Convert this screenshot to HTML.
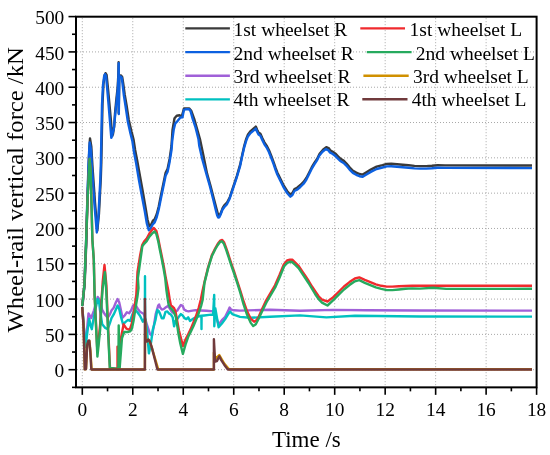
<!DOCTYPE html>
<html><head><meta charset="utf-8"><style>
html,body{margin:0;padding:0;background:#fff;width:550px;height:455px;overflow:hidden}
svg{display:block}
</style></head><body>
<svg width="550" height="455" viewBox="0 0 550 455">
<rect width="550" height="455" fill="#fff"/>
<g stroke="#a8a8a8" stroke-width="1" stroke-dasharray="1 2"><line x1="82.30" y1="18.20" x2="82.30" y2="386.36"/><line x1="132.78" y1="18.20" x2="132.78" y2="386.36"/><line x1="183.26" y1="18.20" x2="183.26" y2="386.36"/><line x1="233.73" y1="18.20" x2="233.73" y2="386.36"/><line x1="284.21" y1="18.20" x2="284.21" y2="386.36"/><line x1="334.69" y1="18.20" x2="334.69" y2="386.36"/><line x1="385.17" y1="18.20" x2="385.17" y2="386.36"/><line x1="435.64" y1="18.20" x2="435.64" y2="386.36"/><line x1="486.12" y1="18.20" x2="486.12" y2="386.36"/><line x1="77.00" y1="369.70" x2="535.60" y2="369.70"/><line x1="77.00" y1="334.39" x2="535.60" y2="334.39"/><line x1="77.00" y1="299.08" x2="535.60" y2="299.08"/><line x1="77.00" y1="263.77" x2="535.60" y2="263.77"/><line x1="77.00" y1="228.46" x2="535.60" y2="228.46"/><line x1="77.00" y1="193.15" x2="535.60" y2="193.15"/><line x1="77.00" y1="157.84" x2="535.60" y2="157.84"/><line x1="77.00" y1="122.53" x2="535.60" y2="122.53"/><line x1="77.00" y1="87.22" x2="535.60" y2="87.22"/><line x1="77.00" y1="51.91" x2="535.60" y2="51.91"/></g>
<polyline fill="none" stroke="#3a3a3a" stroke-width="2.4" stroke-linejoin="round" stroke-linecap="butt" points="82.6,304.9 84.7,283.1 86.3,242.4 87.6,196.9 88.8,161.5 89.5,146.2 90.0,138.5 91.3,146.4 92.5,166.8 95.0,202.5 97.3,230.6 99.0,213.3 100.8,178.5 101.3,163.5 101.8,138.6 102.5,103.7 103.5,83.8 104.7,74.9 105.5,73.2 106.6,74.9 108.0,88.7 109.4,103.5 110.9,120.3 112.2,136.0 113.0,134.0 113.8,128.9 114.2,126.5 115.0,113.6 116.1,101.9 117.7,87.0 118.3,75.0 118.6,62.2 118.7,113.0 119.3,76.0 121.0,75.4 122.2,77.0 123.1,82.6 124.7,94.5 126.6,105.4 128.8,120.0 131.5,131.5 133.5,139.2 135.1,149.8 137.0,159.4 140.1,176.8 142.9,192.3 145.6,207.9 147.5,219.5 149.3,226.2 151.2,224.4 153.0,220.6 154.9,218.8 156.8,214.0 158.8,206.3 160.7,196.5 163.6,182.6 165.6,172.7 167.6,168.8 169.6,158.9 171.5,146.0 172.5,130.0 174.5,118.2 176.7,115.7 179.6,115.3 181.8,116.3 183.0,112.0 184.0,108.4 189.1,108.4 191.3,110.9 194.2,118.9 197.1,129.1 200.0,139.3 203.3,155.0 207.0,173.4 210.5,185.8 214.0,199.3 216.7,209.6 217.7,213.4 218.7,215.3 219.8,215.1 220.9,212.8 222.8,207.6 224.6,205.0 227.2,202.3 229.8,197.2 233.3,186.6 236.8,176.1 240.2,164.4 242.2,154.9 244.2,146.1 246.0,139.5 248.0,134.4 250.6,131.1 253.2,128.8 255.2,127.1 255.8,126.5 257.1,129.8 258.5,132.4 260.4,133.7 262.4,138.3 264.4,142.3 267.0,146.2 269.0,150.2 271.6,156.8 273.6,162.1 275.6,168.0 277.3,172.5 280.5,179.1 283.8,185.7 287.1,191.0 290.4,194.7 292.4,193.0 294.5,189.0 297.1,187.7 300.4,185.0 303.8,181.7 306.5,177.8 309.2,172.5 311.8,167.2 314.5,162.6 317.2,158.7 319.6,153.7 323.0,149.8 326.3,147.1 329.0,148.4 330.2,150.4 332.8,151.7 335.5,153.7 338.0,156.3 340.6,158.9 343.9,160.9 346.5,163.5 349.8,167.5 353.0,170.8 356.3,172.6 359.5,174.0 362.7,174.6 366.0,172.6 370.8,169.6 376.6,166.6 382.5,165.1 386.8,163.9 391.2,163.7 397.0,164.3 402.8,164.8 408.6,165.3 414.5,165.9 420.3,166.1 426.1,166.1 431.9,165.8 437.7,165.3 445.0,165.4 532.0,165.5"/>
<polyline fill="none" stroke="#0c60e0" stroke-width="2.4" stroke-linejoin="round" stroke-linecap="butt" points="82.3,306.0 84.4,285.0 86.0,245.0 87.3,200.0 88.5,165.0 89.2,150.0 89.7,142.5 91.0,150.0 92.1,170.0 94.5,205.0 96.8,232.5 98.5,215.0 100.3,180.0 100.8,165.0 101.3,140.0 102.0,105.0 103.0,85.0 104.2,76.0 105.0,74.2 106.0,76.0 107.3,90.0 108.6,105.0 110.0,122.0 111.3,137.9 112.0,136.0 113.3,130.6 113.9,128.0 115.2,114.8 116.5,102.9 117.9,88.0 118.4,76.0 118.7,63.2 118.8,114.0 119.3,77.0 120.7,76.4 121.8,78.0 122.5,83.6 123.9,95.5 125.6,106.5 127.8,121.4 130.4,133.2 132.4,141.2 134.0,152.0 135.9,161.9 138.9,179.7 141.8,195.5 144.8,211.4 146.8,223.3 148.8,230.2 150.8,228.2 152.7,224.3 154.7,222.3 156.7,217.3 158.7,209.4 160.7,199.5 163.6,185.6 165.6,175.7 167.6,171.8 169.6,161.9 171.5,150.0 172.2,140.8 173.8,129.1 175.3,123.3 177.5,121.1 180.4,117.5 182.5,117.2 183.3,113.0 184.0,109.8 186.2,109.2 189.1,109.2 190.5,111.0 192.7,118.9 195.6,127.6 198.5,139.3 199.3,146.0 202.5,160.0 206.6,174.6 210.1,187.0 213.6,201.0 216.2,211.6 217.2,215.5 218.2,217.5 219.3,217.3 220.4,215.0 222.4,209.8 224.2,207.2 226.8,204.5 229.4,199.3 233.0,188.7 236.5,178.2 240.0,166.5 242.0,157.0 244.0,148.2 245.9,141.6 247.9,136.4 250.5,133.1 253.2,130.8 255.2,129.1 255.8,128.5 257.1,131.8 258.5,134.4 260.4,135.7 262.4,140.3 264.4,144.3 267.0,148.2 269.0,152.2 271.6,158.8 273.6,164.1 275.6,170.0 277.3,174.5 280.5,181.1 283.8,187.7 287.1,193.0 290.4,196.7 292.4,195.0 294.4,191.0 297.0,189.7 300.3,187.0 303.6,183.7 306.3,179.8 308.9,174.5 311.5,169.2 314.2,164.6 316.8,160.7 319.2,155.7 322.5,151.8 325.8,149.1 328.5,150.4 329.8,152.4 332.4,153.7 335.1,155.7 337.7,158.4 340.3,161.0 343.6,163.0 346.3,165.6 349.6,169.6 352.9,172.9 356.2,174.8 359.5,176.2 362.7,176.8 366.0,174.8 370.8,171.9 376.6,169.0 382.5,167.5 386.8,166.4 391.2,166.2 397.0,166.8 402.8,167.3 408.6,167.8 414.5,168.4 420.3,168.6 426.1,168.6 431.9,168.3 437.7,167.8 445.0,167.9 532.0,168.1"/>
<polyline fill="none" stroke="#a060d8" stroke-width="2.4" stroke-linejoin="round" stroke-linecap="butt" points="82.3,307.0 85.3,347.0 86.5,335.0 88.5,313.4 91.2,318.0 93.8,310.8 97.7,297.0 100.0,300.1 102.2,310.0 104.9,314.4 107.7,317.7 109.9,314.4 111.5,310.5 113.7,307.8 115.9,302.3 117.6,299.0 119.2,302.3 120.9,310.0 122.5,317.7 124.7,315.5 126.9,312.2 129.1,313.3 131.3,310.0 133.0,305.6 135.2,304.5 137.9,308.9 140.0,311.8 143.9,314.0 147.0,325.0 150.0,334.0 152.0,335.6 154.0,325.0 155.7,314.2 158.2,305.5 159.1,304.5 160.0,307.3 161.8,309.5 163.6,309.1 165.9,307.3 168.2,305.9 169.5,308.2 171.8,311.8 173.5,313.0 175.5,311.8 177.3,310.5 179.1,307.7 180.9,305.0 182.7,305.9 184.1,309.5 186.4,310.9 188.6,311.4 190.9,310.9 195.5,310.1 201.0,310.5 206.5,310.8 213.6,311.4 215.3,314.7 218.6,324.6 221.9,320.2 225.2,316.9 227.9,311.4 229.6,307.5 231.2,309.7 234.0,310.3 240.0,310.6 270.0,309.8 300.0,310.8 333.0,309.9 366.0,310.3 420.0,310.5 532.0,310.6"/>
<polyline fill="none" stroke="#00c0c0" stroke-width="2.4" stroke-linejoin="round" stroke-linecap="butt" points="82.3,307.0 85.5,347.0 87.9,327.9 89.2,318.7 90.5,325.3 91.8,329.2 93.1,321.3 95.1,310.8 97.7,299.0 99.1,301.6 100.0,310.0 102.2,324.3 104.9,327.6 107.7,329.2 109.9,323.2 111.5,318.2 113.7,314.4 115.9,309.4 117.6,305.6 119.2,308.9 120.9,316.6 123.1,324.3 125.3,322.1 128.0,319.9 130.2,321.0 132.4,314.4 134.6,309.4 137.4,312.2 140.0,315.7 142.9,321.7 144.9,318.0 145.0,276.3 145.1,318.0 146.9,329.6 148.9,353.4 150.9,343.5 152.8,329.6 155.5,320.0 157.3,310.0 158.6,310.9 160.0,313.6 161.8,318.2 163.6,318.2 165.5,311.8 167.3,311.4 169.1,313.6 170.9,314.5 172.7,317.3 174.1,326.4 175.5,320.9 177.3,319.1 179.1,316.4 180.9,314.1 182.7,315.5 184.5,318.2 186.4,319.1 188.2,317.3 190.0,320.9 192.7,319.1 194.4,318.0 198.8,316.3 201.4,315.8 201.5,329.0 201.6,315.8 204.3,315.5 209.2,314.9 213.1,314.5 214.2,294.9 214.3,326.2 215.3,308.1 218.6,327.3 221.9,323.5 225.2,319.1 227.9,314.7 230.1,311.4 232.3,314.1 235.1,315.2 240.0,316.9 250.0,317.8 270.0,316.8 300.0,315.4 326.4,317.4 355.0,315.8 420.0,316.5 532.0,316.6"/>
<polyline fill="none" stroke="#f02a2e" stroke-width="2.4" stroke-linejoin="round" stroke-linecap="butt" points="82.2,306.1 84.4,285.0 86.0,245.0 87.5,200.0 89.6,159.0 90.6,170.0 92.4,240.0 93.8,260.0 94.6,295.0 97.4,352.0 100.1,325.0 101.5,300.0 102.7,282.0 104.5,265.0 106.4,285.0 108.2,330.0 110.0,368.0 117.5,369.0 117.5,346.6 118.5,369.0 121.0,338.0 123.6,324.3 126.4,328.7 129.7,329.8 131.9,323.2 134.1,310.0 136.3,294.6 137.5,272.0 140.2,255.0 142.2,245.0 144.1,241.5 146.7,238.5 149.4,233.5 152.0,230.0 153.8,227.9 156.4,231.0 158.2,238.5 160.3,249.0 162.3,258.7 164.0,267.5 165.8,278.1 168.2,290.0 169.5,298.2 170.9,305.5 172.7,306.8 174.1,308.2 175.5,311.8 177.0,319.7 178.9,330.3 181.6,340.8 182.9,346.0 185.5,339.5 188.2,334.2 190.8,328.9 193.4,322.4 196.1,315.8 198.7,307.9 200.7,300.0 202.5,291.0 204.5,282.0 208.1,267.4 211.8,255.3 215.4,248.0 217.8,243.8 220.2,240.6 222.2,240.0 224.2,242.6 226.6,249.2 229.0,256.5 231.4,263.8 233.9,271.0 237.5,282.0 240.6,291.5 243.8,302.0 247.2,311.6 250.6,318.6 254.1,321.7 256.5,320.3 258.8,316.5 262.0,309.2 266.2,300.3 270.6,292.8 275.0,285.3 279.4,275.3 283.8,264.5 287.1,260.5 290.0,259.6 292.5,259.8 295.5,262.8 298.8,266.1 302.1,271.1 305.4,276.0 308.7,281.0 312.0,286.5 315.3,291.5 318.6,296.3 322.0,299.6 327.5,301.5 333.0,297.4 338.5,292.0 344.0,286.5 349.5,282.1 354.9,278.5 359.3,277.4 364.8,279.9 370.3,282.1 375.8,284.3 381.3,285.8 386.8,286.6 392.3,286.6 398.9,286.3 405.5,286.0 412.1,285.7 420.0,285.7 532.0,285.7"/>
<polyline fill="none" stroke="#26aa5e" stroke-width="2.4" stroke-linejoin="round" stroke-linecap="butt" points="82.2,306.1 84.4,285.0 86.0,245.0 87.5,200.0 89.6,159.0 90.6,170.0 92.4,240.0 93.8,260.0 94.6,295.0 97.4,356.6 100.1,330.2 101.5,305.0 102.7,288.0 104.9,272.3 106.2,290.0 108.0,330.2 109.8,368.0 118.4,369.0 118.7,325.4 119.6,369.0 122.0,338.0 124.2,332.0 127.5,332.0 130.2,331.4 131.9,328.7 133.5,321.0 135.2,310.0 137.4,296.8 138.5,288.0 137.9,278.1 140.6,258.7 142.3,246.4 144.1,243.8 146.7,241.1 149.4,236.7 152.0,233.7 154.6,231.4 156.4,234.1 158.2,241.1 159.9,249.9 161.7,258.7 163.4,267.5 165.2,278.1 166.4,290.0 167.7,299.1 168.6,304.5 170.0,307.3 171.8,309.1 173.2,310.9 174.5,313.6 175.9,317.3 177.3,326.0 178.5,334.0 180.3,343.4 182.9,353.9 185.5,344.7 188.2,336.8 190.8,331.6 193.4,326.3 196.1,319.7 198.7,313.2 201.3,305.3 202.6,300.0 204.5,282.9 208.1,268.4 211.8,256.3 215.4,249.0 217.8,245.0 220.2,241.8 221.9,241.3 223.9,243.8 226.3,250.2 228.7,257.5 231.1,264.8 233.6,272.0 237.2,282.9 240.2,292.5 243.5,304.1 247.0,314.6 250.6,322.6 253.2,326.1 255.8,324.3 258.5,319.0 262.0,311.5 266.4,302.5 270.8,295.0 275.2,287.5 279.6,277.5 284.0,266.5 287.3,262.8 290.0,261.8 292.0,262.0 295.3,264.8 298.6,268.1 301.9,273.1 305.2,278.0 308.5,283.0 311.8,288.5 315.1,294.0 318.4,298.9 322.0,302.6 327.5,305.5 333.0,300.4 338.5,294.9 344.0,289.5 349.5,285.1 354.9,281.3 359.3,280.2 364.8,282.9 370.3,285.1 375.8,287.3 381.3,288.8 386.8,290.1 392.3,290.1 398.9,289.5 405.5,288.8 412.1,288.4 420.0,288.6 433.0,287.8 446.2,288.9 532.0,288.8"/>
<polyline fill="none" stroke="#d09000" stroke-width="2.4" stroke-linejoin="round" stroke-linecap="butt" points="82.2,307.0 83.5,325.0 84.8,369.3 86.0,369.0 87.2,345.0 88.5,342.0 89.5,341.0 90.5,352.0 91.6,369.5 144.9,369.5 145.2,320.0 146.0,339.0 147.5,341.0 149.0,340.0 151.0,345.0 152.5,350.0 155.5,360.0 158.3,369.5 213.9,369.5 213.9,352.6 215.7,358.7 219.3,355.0 224.2,363.5 229.0,369.3 532.0,369.3"/>
<polyline fill="none" stroke="#703a3c" stroke-width="2.4" stroke-linejoin="round" stroke-linecap="butt" points="82.2,307.0 83.5,325.0 84.8,369.3 86.0,369.0 87.2,345.0 88.2,341.0 89.2,340.4 90.2,350.0 91.3,369.5 144.9,369.5 144.9,298.9 145.5,339.5 146.9,341.5 148.3,339.5 149.9,341.5 151.8,347.4 154.8,359.3 157.4,369.5 213.9,369.5 213.9,339.3 215.1,361.7 216.9,361.1 219.3,356.3 221.1,359.9 224.2,364.7 227.8,369.5 532.0,369.5"/>
<rect x="76.00" y="16.70" width="460.60" height="370.66" fill="none" stroke="#000" stroke-width="2"/>
<g stroke="#000" stroke-width="1.6"><line x1="82.30" y1="387.36" x2="82.30" y2="394.86"/><line x1="107.54" y1="387.36" x2="107.54" y2="391.36"/><line x1="132.78" y1="387.36" x2="132.78" y2="394.86"/><line x1="158.02" y1="387.36" x2="158.02" y2="391.36"/><line x1="183.26" y1="387.36" x2="183.26" y2="394.86"/><line x1="208.49" y1="387.36" x2="208.49" y2="391.36"/><line x1="233.73" y1="387.36" x2="233.73" y2="394.86"/><line x1="258.97" y1="387.36" x2="258.97" y2="391.36"/><line x1="284.21" y1="387.36" x2="284.21" y2="394.86"/><line x1="309.45" y1="387.36" x2="309.45" y2="391.36"/><line x1="334.69" y1="387.36" x2="334.69" y2="394.86"/><line x1="359.93" y1="387.36" x2="359.93" y2="391.36"/><line x1="385.17" y1="387.36" x2="385.17" y2="394.86"/><line x1="410.41" y1="387.36" x2="410.41" y2="391.36"/><line x1="435.64" y1="387.36" x2="435.64" y2="394.86"/><line x1="460.88" y1="387.36" x2="460.88" y2="391.36"/><line x1="486.12" y1="387.36" x2="486.12" y2="394.86"/><line x1="511.36" y1="387.36" x2="511.36" y2="391.36"/><line x1="536.60" y1="387.36" x2="536.60" y2="394.86"/><line x1="76.00" y1="387.36" x2="72.00" y2="387.36"/><line x1="76.00" y1="369.70" x2="68.50" y2="369.70"/><line x1="76.00" y1="352.04" x2="72.00" y2="352.04"/><line x1="76.00" y1="334.39" x2="68.50" y2="334.39"/><line x1="76.00" y1="316.74" x2="72.00" y2="316.74"/><line x1="76.00" y1="299.08" x2="68.50" y2="299.08"/><line x1="76.00" y1="281.42" x2="72.00" y2="281.42"/><line x1="76.00" y1="263.77" x2="68.50" y2="263.77"/><line x1="76.00" y1="246.12" x2="72.00" y2="246.12"/><line x1="76.00" y1="228.46" x2="68.50" y2="228.46"/><line x1="76.00" y1="210.80" x2="72.00" y2="210.80"/><line x1="76.00" y1="193.15" x2="68.50" y2="193.15"/><line x1="76.00" y1="175.49" x2="72.00" y2="175.49"/><line x1="76.00" y1="157.84" x2="68.50" y2="157.84"/><line x1="76.00" y1="140.19" x2="72.00" y2="140.19"/><line x1="76.00" y1="122.53" x2="68.50" y2="122.53"/><line x1="76.00" y1="104.88" x2="72.00" y2="104.88"/><line x1="76.00" y1="87.22" x2="68.50" y2="87.22"/><line x1="76.00" y1="69.56" x2="72.00" y2="69.56"/><line x1="76.00" y1="51.91" x2="68.50" y2="51.91"/><line x1="76.00" y1="34.25" x2="72.00" y2="34.25"/><line x1="76.00" y1="16.60" x2="68.50" y2="16.60"/></g>
<g font-family='"Liberation Serif", "Times New Roman", serif' font-size="19.4" fill="#000"><text x="82.30" y="416.4" text-anchor="middle">0</text><text x="132.78" y="416.4" text-anchor="middle">2</text><text x="183.26" y="416.4" text-anchor="middle">4</text><text x="233.73" y="416.4" text-anchor="middle">6</text><text x="284.21" y="416.4" text-anchor="middle">8</text><text x="334.69" y="416.4" text-anchor="middle">10</text><text x="385.17" y="416.4" text-anchor="middle">12</text><text x="435.64" y="416.4" text-anchor="middle">14</text><text x="486.12" y="416.4" text-anchor="middle">16</text><text x="536.60" y="416.4" text-anchor="middle">18</text><text x="64.3" y="377.30" text-anchor="end">0</text><text x="64.3" y="341.99" text-anchor="end">50</text><text x="64.3" y="306.68" text-anchor="end">100</text><text x="64.3" y="271.37" text-anchor="end">150</text><text x="64.3" y="236.06" text-anchor="end">200</text><text x="64.3" y="200.75" text-anchor="end">250</text><text x="64.3" y="165.44" text-anchor="end">300</text><text x="64.3" y="130.13" text-anchor="end">350</text><text x="64.3" y="94.82" text-anchor="end">400</text><text x="64.3" y="59.51" text-anchor="end">450</text><text x="64.3" y="24.20" text-anchor="end">500</text></g>
<text x="306.4" y="446.7" text-anchor="middle" font-family='"Liberation Serif", "Times New Roman", serif' font-size="23">Time /s</text>
<text transform="translate(23,189.8) rotate(-90) scale(1,0.95)" text-anchor="middle" font-family='"Liberation Serif", "Times New Roman", serif' font-size="24.65">Wheel-rail vertical force /kN</text>
<line x1="185.3" y1="28.4" x2="229.9" y2="28.4" stroke="#3a3a3a" stroke-width="2.4"/><text x="233.5" y="35.5" font-family='"Liberation Serif", "Times New Roman", serif' font-size="19.5">1st wheelset R</text><line x1="185.3" y1="52.1" x2="229.9" y2="52.1" stroke="#0c60e0" stroke-width="2.4"/><text x="233.5" y="59.5" font-family='"Liberation Serif", "Times New Roman", serif' font-size="19.5">2nd wheelset R</text><line x1="185.3" y1="75.7" x2="229.9" y2="75.7" stroke="#a060d8" stroke-width="2.4"/><text x="233.5" y="82.8" font-family='"Liberation Serif", "Times New Roman", serif' font-size="19.5">3rd wheelset R</text><line x1="185.3" y1="99.4" x2="229.9" y2="99.4" stroke="#00c0c0" stroke-width="2.4"/><text x="233.5" y="106.1" font-family='"Liberation Serif", "Times New Roman", serif' font-size="19.5">4th wheelset R</text><line x1="360.3" y1="28.4" x2="405" y2="28.4" stroke="#f02a2e" stroke-width="2.4"/><text x="409.6" y="35.5" font-family='"Liberation Serif", "Times New Roman", serif' font-size="19.5">1st wheelset L</text><line x1="366.8" y1="52.1" x2="411.6" y2="52.1" stroke="#26aa5e" stroke-width="2.4"/><text x="415.8" y="59.5" font-family='"Liberation Serif", "Times New Roman", serif' font-size="19.5">2nd wheelset L</text><line x1="363.4" y1="75.7" x2="408.7" y2="75.7" stroke="#d09000" stroke-width="2.4"/><text x="412.9" y="82.8" font-family='"Liberation Serif", "Times New Roman", serif' font-size="19.5">3rd wheelset L</text><line x1="362.3" y1="99.3" x2="407.5" y2="99.3" stroke="#703a3c" stroke-width="2.4"/><text x="411.7" y="106.1" font-family='"Liberation Serif", "Times New Roman", serif' font-size="19.5">4th wheelset L</text>
</svg>
</body></html>
